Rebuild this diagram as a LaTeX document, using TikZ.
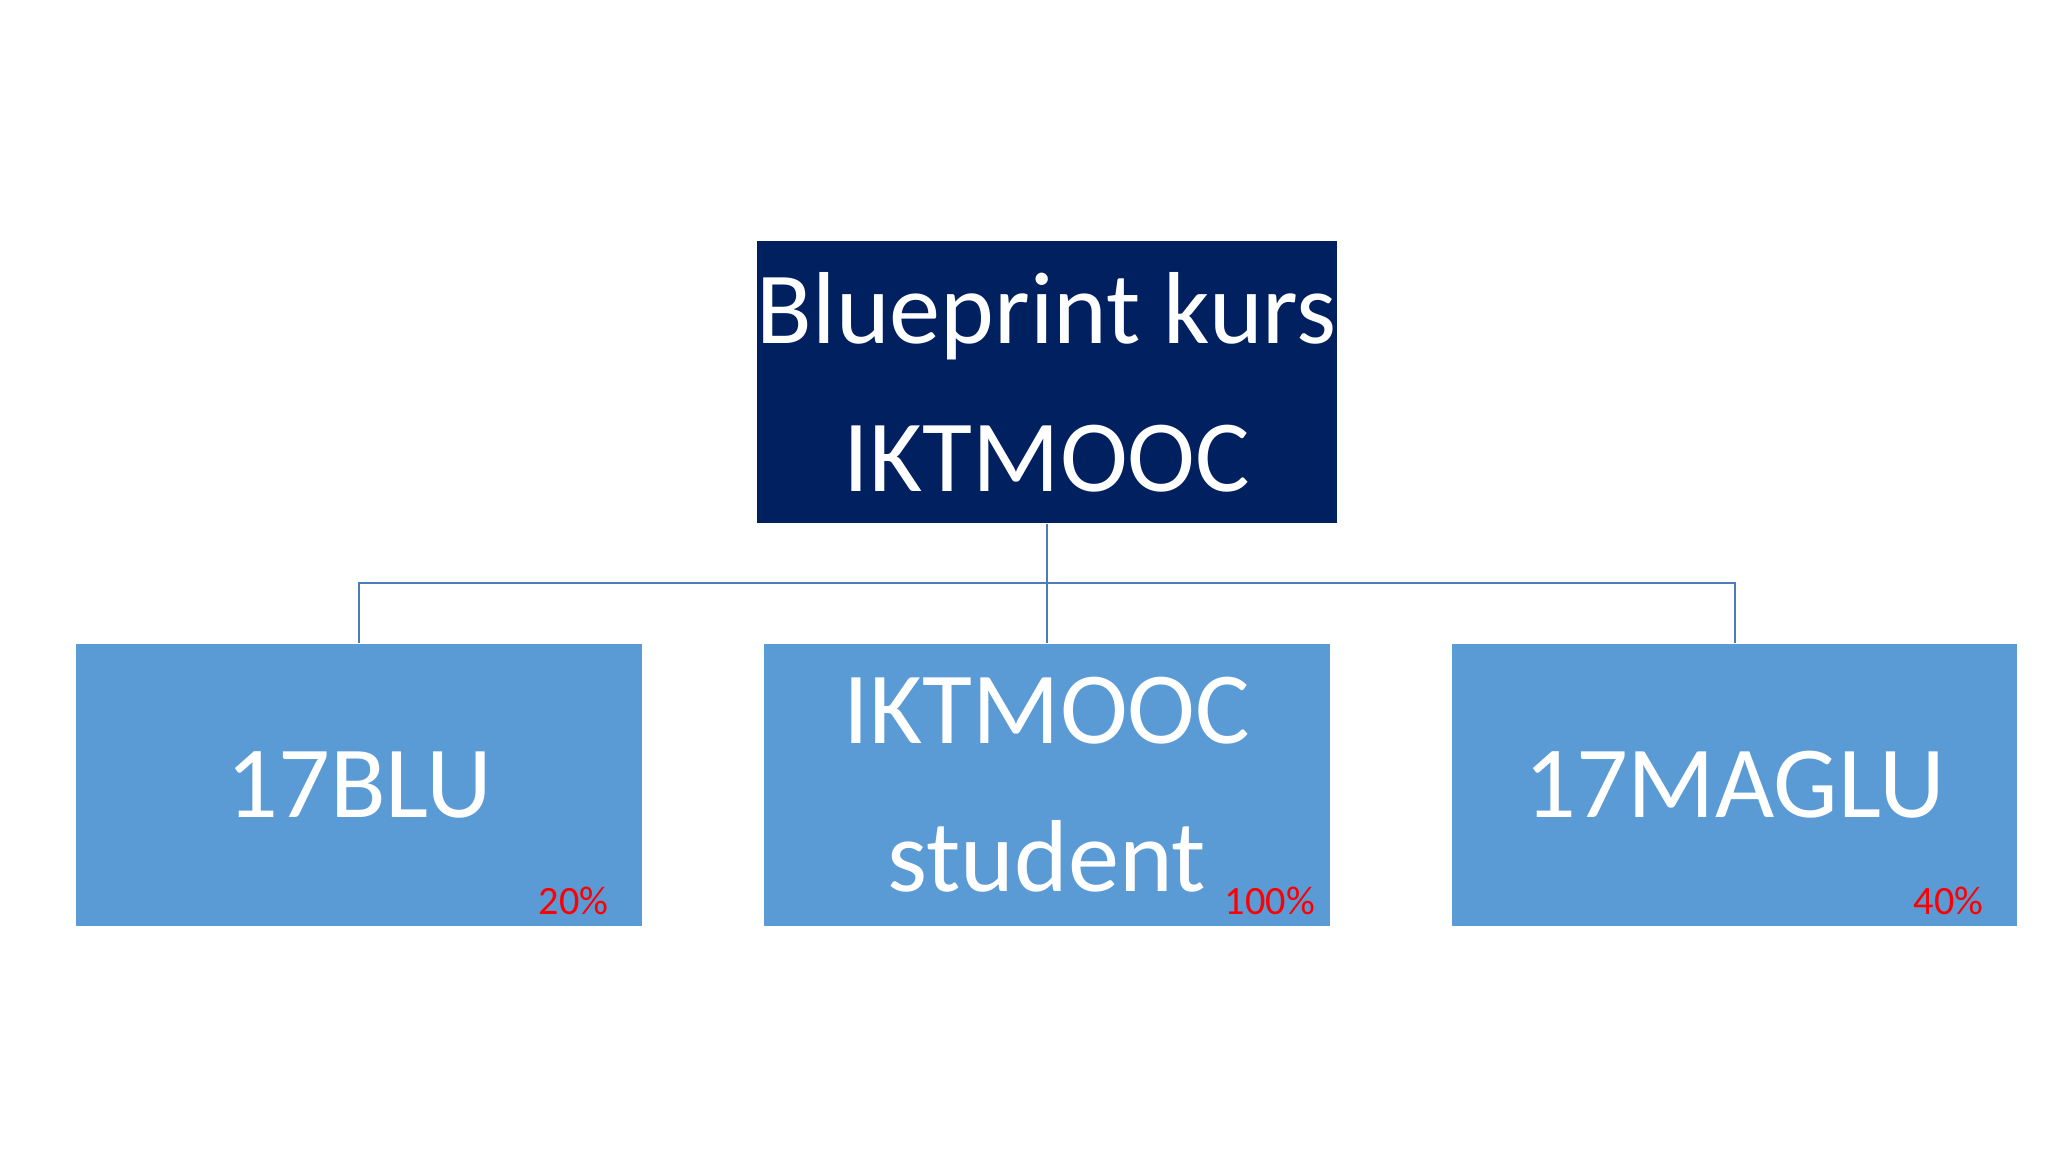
\documentclass[tikz,border=0pt]{standalone}
\usepackage{fontspec}
\setmainfont{Carlito}
\definecolor{navy}{HTML}{002060}
\definecolor{lblue}{HTML}{5B9BD5}
\definecolor{lnk}{HTML}{4A7EBB}
\begin{document}
\begin{tikzpicture}[x=0.6pt,y=-0.6pt,
  box/.style={draw=none,inner sep=0,minimum width=433*0.6pt,minimum height=216*0.6pt,text=white,align=center,font=\fontsize{47}{68}\selectfont},
  pct/.style={text=red,font=\fontsize{18.5}{20}\selectfont,anchor=east,inner sep=0},
  conn/.style={draw=lnk,line width=0.9pt}]
\useasboundingbox[fill=white] (0,0) rectangle (1568,882);
\node[box,fill=navy] (top) at (801.5,292.5) {Blueprint kurs\\IKTMOOC};
\node[box,fill=lblue] (a) at (275,601) {17BLU};
\node[box,fill=lblue] (b) at (801.5,601) {IKTMOOC\\student};
\node[box,fill=lblue] (c) at (1328,601) {17MAGLU};
\node[pct] (pa) at (466,690) {20\%};
\node[pct] (pb) at (1007,690) {100\%};
\node[pct] (pc) at (1519,690) {40\%};
\coordinate (j) at (801.5,446);
\draw[conn] (top.south) -- (b.north);
\draw[conn] (a.north) -- (a.north |- j) -- (c.north |- j) -- (c.north);
\end{tikzpicture}
\end{document}
